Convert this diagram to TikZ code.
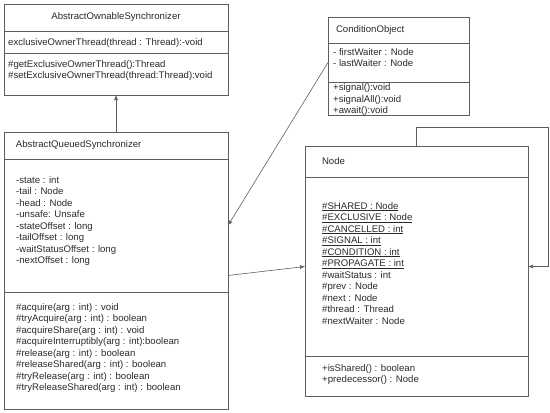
\documentclass[tikz,border=0pt]{standalone}
\usepackage{fontspec}
\newfontfamily\arialfont{Liberation Sans}
\usetikzlibrary{arrows.meta, positioning}
\definecolor{linegray}{HTML}{5E5E5E}
\definecolor{textgray}{HTML}{2A2A2A}
\newcommand{\umltext}{\arialfont\fontsize{9.6pt}{11.5pt}\selectfont}

\begin{document}
\begin{tikzpicture}[
    x=1pt, y=-1pt,
    every node/.style={font=\umltext, text=textgray},
    classhead/.style={rectangle, draw=linegray, line width=0.6pt, outer sep=0pt, align=left},
    compart/.style={rectangle, draw=linegray, line width=0.6pt, outer sep=0pt, inner sep=0pt},
    members/.style={inner sep=0pt, align=left},
    arrow/.style={-{Latex[length=5pt, width=4pt]}, draw=linegray, line width=0.6pt}
]
\useasboundingbox (0,0) rectangle (550,413);

% AbstractOwnableSynchronizer
\node[classhead, minimum height=27pt, text width=216pt, inner xsep=4pt, align=center] (aosname) at (116,17.5) {AbstractOwnableSynchronizer};
\node[compart, minimum width=224pt, minimum height=22pt, below=0pt of aosname] (aosattr) {};
\node[compart, minimum width=224pt, minimum height=42pt, below=0pt of aosattr] (aosops) {};
\node[members, below right=7pt and 4pt of aosattr.north west] (aosattrtext) {exclusiveOwnerThread(thread : Thread):-void};
\node[members, below right=7pt and 4pt of aosops.north west] (aosopstext) {\#getExclusiveOwnerThread():Thread\\\#setExclusiveOwnerThread(thread:Thread):void};

% AbstractQueuedSynchronizer
\node[classhead, minimum height=27pt, text width=200pt, inner xsep=12pt] (aqsname) at (116,145.5) {AbstractQueuedSynchronizer};
\node[compart, minimum width=224pt, minimum height=133pt, below=0pt of aqsname] (aqsattrs) {};
\node[compart, minimum width=224pt, minimum height=117pt, below=0pt of aqsattrs] (aqsops) {};
\node[members, below right=17pt and 12pt of aqsattrs.north west] (aqsattrtext) {-state : int\\-tail : Node\\-head : Node\\-unsafe: Unsafe\\-stateOffset : long\\-tailOffset : long\\-waitStatusOffset : long\\-nextOffset : long};
\node[members, below right=11pt and 12pt of aqsops.north west] (aqsopstext) {\#acquire(arg : int) : void\\\#tryAcquire(arg : int) : boolean\\\#acquireShare(arg : int) : void\\\#acquireInterruptibly(arg : int):boolean\\\#release(arg : int) : boolean\\\#releaseShared(arg : int) : boolean\\\#tryRelease(arg : int) : boolean\\\#tryReleaseShared(arg : int) : boolean};

% ConditionObject
\node[classhead, minimum height=26pt, text width=125pt, inner xsep=8pt] (conname) at (398.5,30) {ConditionObject};
\node[compart, minimum width=141pt, minimum height=39pt, below=0pt of conname] (conattrs) {};
\node[compart, minimum width=141pt, minimum height=33pt, below=0pt of conattrs] (conops) {};
\node[members, below right=5pt and 5pt of conattrs.north west] (conattrtext) {- firstWaiter : Node\\- lastWaiter : Node};
\node[members, below right=1.5pt and 5pt of conops.north west] (conopstext) {+signal():void\\+signalAll():void\\+await():void};

% Node
\node[classhead, minimum height=31pt, text width=189pt, inner xsep=17pt] (nodename) at (416.5,161.5) {Node};
\node[compart, minimum width=223pt, minimum height=179pt, below=0pt of nodename] (nodeattrs) {};
\node[compart, minimum width=223pt, minimum height=40pt, below=0pt of nodeattrs] (nodeops) {};
\node[members, below right=25pt and 17pt of nodeattrs.north west] (nodeattrtext) {\underline{\#SHARED : Node}\\\underline{\#EXCLUSIVE : Node}\\\underline{\#CANCELLED : int}\\\underline{\#SIGNAL : int}\\\underline{\#CONDITION : int}\\\underline{\#PROPAGATE : int}\\\#waitStatus : int\\\#prev : Node\\\#next : Node\\\#thread : Thread\\\#nextWaiter : Node};
\node[members, below right=8pt and 17pt of nodeops.north west] (nodeopstext) {+isShared() : boolean\\+predecessor() : Node};

\draw[arrow] (aqsname.north) -- (aosops.south);
\draw[arrow] (conattrs.west) -- (aqsattrs.east);
\draw[arrow] ([yshift=-50pt]aqsattrs.east) -- (nodeattrs.west);
\draw[arrow] (nodename.north) |- ([shift={(20pt,19pt)}]nodename.north east) |- (nodeattrs.east);

\end{tikzpicture}
\end{document}
